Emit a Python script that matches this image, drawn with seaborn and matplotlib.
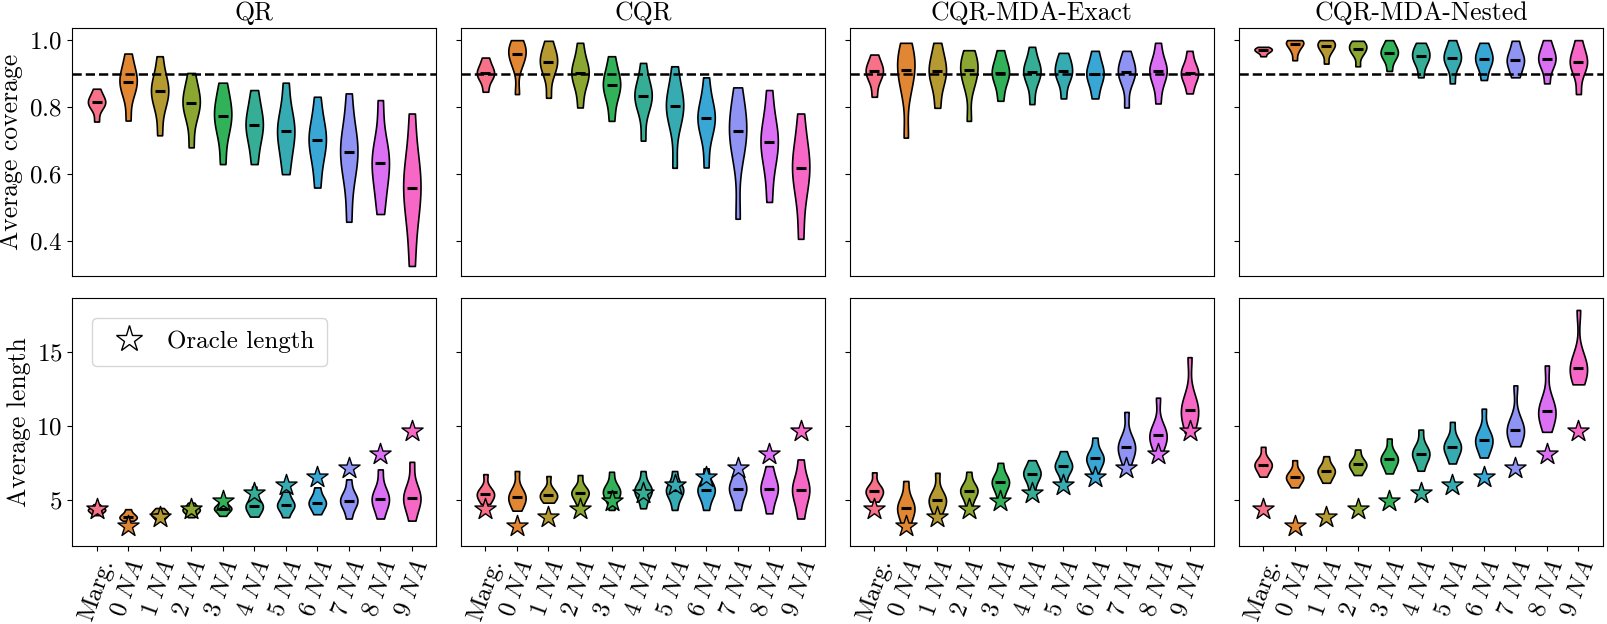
import pandas as pd
import seaborn as sns
import matplotlib.pyplot as plt
from matplotlib.lines import Line2D

# settings on the x axis
settings = ["Marg.", "0 NA", "1 NA", "2 NA", "3 NA", "4 NA",
            "5 NA", "6 NA", "7 NA", "8 NA", "9 NA"]
tick_labels = ["Marg.", r"$0\ NA$", r"$1\ NA$", r"$2\ NA$", r"$3\ NA$", r"$4\ NA$",
               r"$5\ NA$", r"$6\ NA$", r"$7\ NA$", r"$8\ NA$", r"$9\ NA$"]
methods = ["QR", "CQR", "CQR-MDA-Exact", "CQR-MDA-Nested"]

# each row: quantiles (0, 1/6, ..., 1) of the per-run values
cov_qr = [
    [0.757, 0.795, 0.808, 0.814, 0.822, 0.834, 0.855],
    [0.760, 0.835, 0.862, 0.876, 0.893, 0.915, 0.960],
    [0.716, 0.800, 0.830, 0.848, 0.865, 0.888, 0.952],
    [0.680, 0.762, 0.796, 0.812, 0.830, 0.855, 0.902],
    [0.630, 0.712, 0.752, 0.773, 0.795, 0.825, 0.873],
    [0.630, 0.690, 0.726, 0.746, 0.768, 0.800, 0.851],
    [0.600, 0.662, 0.704, 0.728, 0.752, 0.790, 0.873],
    [0.560, 0.636, 0.680, 0.701, 0.725, 0.760, 0.831],
    [0.458, 0.585, 0.638, 0.666, 0.694, 0.735, 0.841],
    [0.481, 0.552, 0.605, 0.632, 0.660, 0.700, 0.821],
    [0.326, 0.455, 0.522, 0.560, 0.598, 0.650, 0.781],
]
cov_cqr = [
    [0.846, 0.880, 0.894, 0.901, 0.910, 0.925, 0.948],
    [0.839, 0.920, 0.945, 0.958, 0.970, 0.985, 1.000],
    [0.828, 0.895, 0.920, 0.934, 0.948, 0.965, 0.998],
    [0.799, 0.860, 0.888, 0.902, 0.916, 0.940, 0.992],
    [0.759, 0.820, 0.850, 0.866, 0.882, 0.905, 0.952],
    [0.700, 0.790, 0.820, 0.833, 0.848, 0.870, 0.932],
    [0.619, 0.745, 0.785, 0.802, 0.820, 0.850, 0.922],
    [0.620, 0.715, 0.750, 0.767, 0.785, 0.815, 0.889],
    [0.467, 0.650, 0.700, 0.728, 0.755, 0.790, 0.859],
    [0.517, 0.620, 0.670, 0.695, 0.720, 0.760, 0.851],
    [0.407, 0.530, 0.590, 0.617, 0.645, 0.690, 0.781],
]
cov_exact = [
    [0.831, 0.875, 0.895, 0.907, 0.915, 0.930, 0.957],
    [0.709, 0.840, 0.890, 0.910, 0.935, 0.960, 0.992],
    [0.798, 0.860, 0.890, 0.907, 0.925, 0.950, 0.992],
    [0.759, 0.860, 0.890, 0.910, 0.925, 0.945, 0.970],
    [0.819, 0.865, 0.890, 0.902, 0.915, 0.935, 0.970],
    [0.809, 0.870, 0.895, 0.905, 0.918, 0.935, 0.980],
    [0.826, 0.875, 0.895, 0.907, 0.920, 0.940, 0.962],
    [0.826, 0.865, 0.888, 0.900, 0.913, 0.935, 0.968],
    [0.799, 0.870, 0.893, 0.905, 0.918, 0.935, 0.968],
    [0.811, 0.870, 0.895, 0.908, 0.920, 0.940, 0.992],
    [0.841, 0.875, 0.892, 0.902, 0.912, 0.930, 0.968],
]
cov_nested = [
    [0.952, 0.962, 0.967, 0.970, 0.973, 0.976, 0.980],
    [0.940, 0.965, 0.978, 0.988, 0.993, 0.997, 1.000],
    [0.930, 0.960, 0.973, 0.982, 0.988, 0.994, 1.000],
    [0.922, 0.955, 0.967, 0.975, 0.982, 0.990, 0.998],
    [0.908, 0.940, 0.953, 0.962, 0.970, 0.980, 1.000],
    [0.889, 0.925, 0.942, 0.952, 0.962, 0.975, 0.992],
    [0.871, 0.920, 0.937, 0.947, 0.958, 0.973, 1.000],
    [0.881, 0.915, 0.933, 0.944, 0.955, 0.970, 0.992],
    [0.889, 0.912, 0.930, 0.940, 0.952, 0.970, 0.998],
    [0.871, 0.915, 0.933, 0.944, 0.956, 0.972, 1.000],
    [0.839, 0.900, 0.922, 0.934, 0.946, 0.965, 1.000],
]

len_qr = [
    [3.98, 4.15, 4.27, 4.33, 4.40, 4.50, 4.72],
    [3.60, 3.72, 3.80, 3.88, 3.98, 4.12, 4.38],
    [3.66, 3.85, 3.97, 4.06, 4.15, 4.28, 4.46],
    [3.84, 4.10, 4.25, 4.33, 4.42, 4.55, 4.82],
    [3.93, 4.20, 4.35, 4.42, 4.52, 4.68, 5.00],
    [3.88, 4.25, 4.45, 4.60, 4.75, 5.00, 5.90],
    [3.84, 4.30, 4.52, 4.66, 4.82, 5.10, 5.56],
    [4.04, 4.45, 4.68, 4.82, 5.00, 5.30, 5.85],
    [3.75, 4.50, 4.80, 4.96, 5.15, 5.50, 6.39],
    [3.75, 4.50, 4.85, 5.07, 5.35, 5.80, 7.06],
    [3.61, 4.50, 4.90, 5.13, 5.45, 6.00, 7.57],
]
len_cqr = [
    [4.73, 5.05, 5.28, 5.40, 5.55, 5.80, 6.74],
    [4.28, 4.75, 5.00, 5.20, 5.40, 5.75, 6.95],
    [4.82, 5.05, 5.22, 5.34, 5.48, 5.75, 6.61],
    [4.66, 5.10, 5.35, 5.49, 5.62, 5.85, 6.68],
    [4.33, 5.05, 5.35, 5.54, 5.70, 5.95, 6.90],
    [4.44, 5.15, 5.45, 5.65, 5.80, 6.05, 6.95],
    [4.33, 5.10, 5.45, 5.65, 5.82, 6.05, 6.95],
    [4.33, 5.10, 5.45, 5.67, 5.85, 6.15, 7.13],
    [4.33, 5.10, 5.50, 5.76, 6.00, 6.35, 7.00],
    [4.10, 5.00, 5.45, 5.76, 6.05, 6.50, 7.28],
    [3.75, 4.75, 5.35, 5.69, 6.00, 6.55, 7.73],
]
len_exact = [
    [4.89, 5.25, 5.45, 5.60, 5.75, 6.00, 6.86],
    [3.10, 3.80, 4.20, 4.44, 4.70, 5.10, 6.28],
    [3.99, 4.50, 4.80, 5.00, 5.20, 5.55, 6.83],
    [4.55, 5.15, 5.45, 5.63, 5.80, 6.05, 6.90],
    [5.11, 5.70, 6.00, 6.21, 6.40, 6.70, 7.50],
    [5.67, 6.25, 6.55, 6.77, 6.95, 7.20, 7.68],
    [6.12, 6.80, 7.10, 7.28, 7.45, 7.75, 8.29],
    [6.83, 7.35, 7.62, 7.80, 8.00, 8.35, 9.20],
    [7.35, 7.95, 8.35, 8.58, 8.80, 9.25, 10.93],
    [8.24, 8.80, 9.15, 9.36, 9.60, 10.10, 11.89],
    [9.52, 10.30, 10.80, 11.04, 11.35, 12.00, 14.62],
]
len_nested = [
    [6.57, 7.00, 7.25, 7.37, 7.50, 7.75, 8.58],
    [5.85, 6.25, 6.43, 6.54, 6.68, 6.95, 7.68],
    [6.16, 6.55, 6.80, 6.95, 7.10, 7.35, 7.95],
    [6.68, 7.05, 7.27, 7.39, 7.52, 7.80, 8.40],
    [6.79, 7.30, 7.60, 7.75, 7.90, 8.20, 9.14],
    [6.97, 7.65, 7.95, 8.13, 8.30, 8.65, 9.74],
    [7.46, 8.10, 8.40, 8.58, 8.78, 9.15, 10.26],
    [7.86, 8.50, 8.85, 9.03, 9.25, 9.70, 11.15],
    [8.62, 9.25, 9.55, 9.74, 9.95, 10.50, 12.72],
    [9.59, 10.30, 10.75, 10.97, 11.25, 11.90, 14.06],
    [12.79, 13.35, 13.70, 13.90, 14.15, 14.70, 17.80],
]

# oracle interval length per setting (same for every method)
oracle_length = [4.37, 3.23, 3.83, 4.42, 4.96, 5.47, 5.98, 6.55, 7.17, 8.09, 9.65]

target_coverage = 0.9

coverage = [cov_qr, cov_cqr, cov_exact, cov_nested]
lengths = [len_qr, len_cqr, len_exact, len_nested]

plt.rcParams.update({
    "font.family": "cmr10",
    "mathtext.fontset": "cm",
    "axes.formatter.use_mathtext": True,
    "axes.unicode_minus": False,
    "xtick.labelsize": 18,
    "ytick.labelsize": 18,
})

palette = sns.color_palette("husl", len(settings))


def to_long(rows):
    recs = []
    for s, vals in zip(settings, rows):
        for v in vals:
            recs.append({"setting": s, "value": v})
    return pd.DataFrame(recs)


fig, axes = plt.subplots(2, 4, figsize=(16.07, 6.24), dpi=100, sharey="row")

for col, method in enumerate(methods):
    for row, rows in enumerate([coverage[col], lengths[col]]):
        ax = axes[row, col]
        df = to_long(rows)
        sns.violinplot(data=df, x="setting", y="value", hue="setting",
                       order=settings, hue_order=settings, palette=palette,
                       inner=None, cut=0, density_norm="width", width=0.55,
                       bw_adjust=0.8, saturation=1, linecolor="black",
                       linewidth=1.2, legend=False, ax=ax)
        med = df.groupby("setting", sort=False)["value"].median()
        sns.stripplot(x=list(med.index), y=list(med.values), order=settings,
                      marker="_", color="black", edgecolor="black", size=7,
                      linewidth=2.2, jitter=False, ax=ax, zorder=5)
        if row == 0:
            ax.axhline(target_coverage, ls="--", color="black", lw=1.8, zorder=4)
            ax.set_xticks([])
            ax.set_title(method, fontsize=18.5)
        else:
            sns.stripplot(x=settings, y=oracle_length, hue=settings,
                          order=settings, hue_order=settings, palette=palette,
                          marker="*", size=16, edgecolor="black", linewidth=1,
                          jitter=False, legend=False, ax=ax, zorder=6)
            ax.set_xticks(range(len(settings)))
            ax.set_xticklabels(tick_labels, rotation=70)
        ax.set_xlim(-0.78, len(settings) - 0.22)
        ax.set_xlabel("")
        ax.set_ylabel("")

axes[0, 0].set_ylim(0.296, 1.036)
axes[0, 0].set_yticks([0.4, 0.6, 0.8, 1.0])
axes[1, 0].set_ylim(1.9, 18.6)
axes[1, 0].set_yticks([5, 10, 15])
axes[0, 0].set_ylabel("Average coverage", fontsize=18.5)
axes[1, 0].set_ylabel("Average length", fontsize=18.5)

star = Line2D([], [], marker="*", linestyle="None", markerfacecolor="white",
              markeredgecolor="black", markersize=20)
axes[1, 0].legend([star], ["Oracle length"], loc="upper left", fontsize=18,
                  borderaxespad=0.8, handletextpad=0.5, borderpad=0.5)

fig.subplots_adjust(left=0.0448, right=0.9975, top=0.955, bottom=0.125,
                    wspace=0.067, hspace=0.089)
fig.savefig("out.png", dpi=100)
